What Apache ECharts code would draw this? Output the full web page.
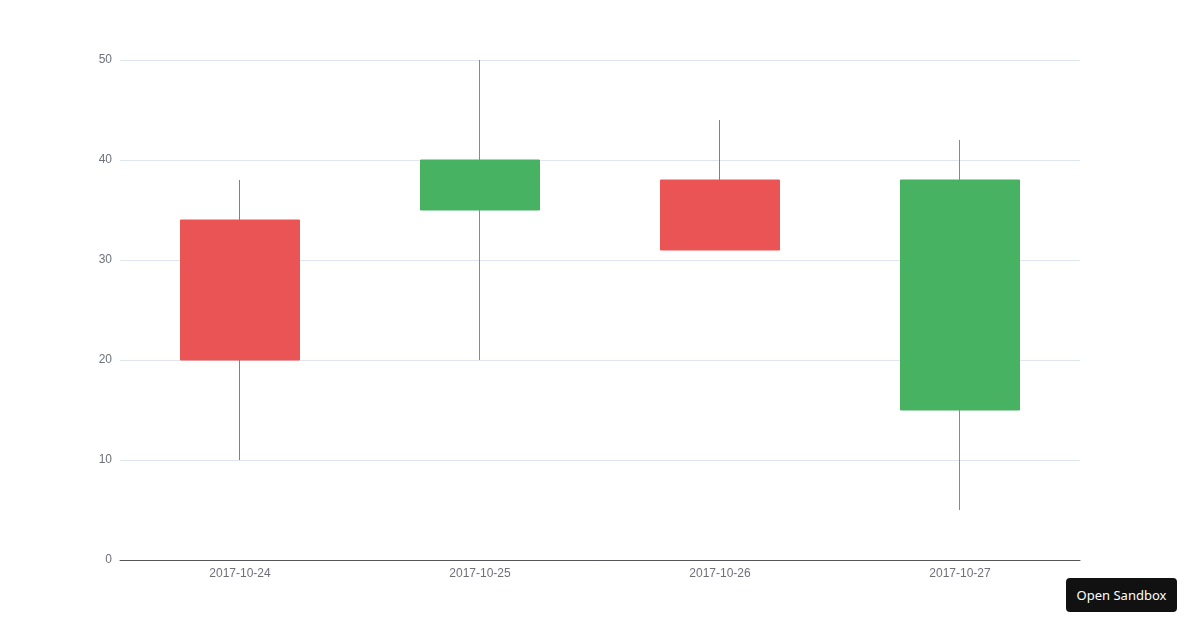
<!DOCTYPE html>
<html><head><meta charset="utf-8">
<script src="https://cdn.jsdelivr.net/npm/echarts@6/dist/echarts.min.js"></script>
<style>html,body{margin:0;padding:0;background:#fff}#c{width:1200px;height:630px}
#btn{position:absolute;left:1066px;top:578px;width:111px;height:34px;background:#111;color:#fff;border-radius:4px;font:13px "Noto Sans",Arial,sans-serif;display:flex;align-items:center;justify-content:center}</style>
</head><body><div id="c"></div><div id="btn">Open Sandbox</div>
<script>
const categories = ['2017-10-24','2017-10-25','2017-10-26','2017-10-27'];
// open, close, low, high
const ohlc = [[20,34,10,38],[40,35,20,50],[31,38,33,44],[38,15,5,42]];
const chart = echarts.init(document.getElementById('c'));
chart.setOption({
  animation:false,
  grid:{left:120,right:120,top:60,bottom:70},
  xAxis:{type:'category',data:categories,axisLabel:{color:'#6e7079'}},
  yAxis:{type:'value',min:0,max:50,interval:10,axisLabel:{color:'#6e7079'},splitLine:{lineStyle:{color:'#e0e6f1'}}},
  series:[{type:'candlestick',data:ohlc,barWidth:'50%'}]
});
</script></body></html>
